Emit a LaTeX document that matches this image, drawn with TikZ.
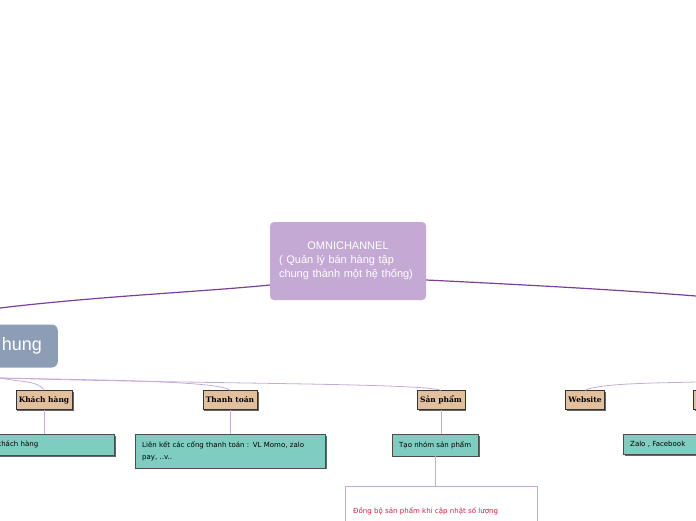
\documentclass[tikz,border=0pt]{standalone}
\usepackage{fontspec}
\usetikzlibrary{shadows}
\setmainfont{DejaVu Serif}
\setsansfont{Liberation Sans}
\newfontfamily\monof{DejaVu Sans}
\begin{document}
\begin{tikzpicture}[x=1pt,y=-1pt,
  tan/.style={draw=black!80,fill={rgb,255:red,226;green,192;blue,158},font=\bfseries\fontsize{7.5}{9}\selectfont,inner sep=3pt,minimum height=19pt,drop shadow={shadow xshift=1.5pt,shadow yshift=-1.5pt,fill=black!60,opacity=1}},
  teal/.style={draw=black!70,fill={rgb,255:red,126;green,205;blue,192},font=\monof\fontsize{7}{12}\selectfont,align=left,anchor=north west,inner sep=7pt,drop shadow={shadow xshift=1.5pt,shadow yshift=-1.5pt,fill=black!60,opacity=1}},
  main/.style={draw={rgb,255:red,123;green,63;blue,155},line width=1.2pt},
  thin/.style={draw={rgb,255:red,200;green,170;blue,215},line width=0.8pt}]
\useasboundingbox (0,0) rectangle (696,520);
\begin{scope}
\clip (0,0) rectangle (696,520);
\node[fill={rgb,255:red,195;green,169;blue,211},rounded corners=4pt,text=white,font=\sffamily\fontsize{11}{14}\selectfont,align=left,minimum width=156pt,minimum height=78pt,text width=138pt] (c) at (348,261) {\centering OMNICHANNEL\par ( Quản lý bán hàng tập chung thành một hệ thống)};
\coordinate (L) at (0,308);
\coordinate (R) at (696,296);
\draw[main] (c.west) ++(0,24) coordinate (cl) (L) .. controls (100,296) and (200,292) .. (cl);
\draw[main] (c.east) ++(0,19) coordinate (cr) (cr) .. controls (530,285) and (620,290) .. (R);
\node[fill={rgb,255:red,140;green,157;blue,181},rounded corners=6pt,text=white,font=\sffamily\fontsize{18}{20}\selectfont,anchor=east,minimum height=43pt,inner xsep=16pt] (h) at (58,346) {hung};
\node[tan] (kh) at (44,400) {Khách hàng};
\node[tan] (tt) at (230,400) {Thanh toán};
\node[tan] (sp) at (441,400) {Sản phẩm};
\node[tan] (ws) at (585,400) {Website};
\node[tan,anchor=west] (x5) at (693,400) {Mạng};
\coordinate (hl) at (0,378);
\coordinate (rr) at (696,382);
\draw[thin] (hl) .. controls (20,382) and (40,381) .. (kh.north);
\draw[thin] (hl) .. controls (100,380) and (220,381) .. (tt.north);
\draw[thin] (hl) .. controls (200,384) and (420,383) .. (sp.north);
\draw[thin] (rr) .. controls (660,383) and (600,383) .. (ws.north);
\node[teal,text width=150pt] (k1) at (-50,434) {Lưu lịch sử khách hàng};
\node[teal,text width=176pt] (t1) at (135,434) {Liên kết các cổng thanh toán : VL Momo, zalo pay, ..v..};
\node[teal] (s1) at (392,434) {Tạo nhóm sản phẩm};
\node[teal,text width=110pt] (z1) at (623,434) {Zalo , Facebook};
\draw[thin] (kh.south) -- (kh.south |- k1.north);
\draw[thin] (tt.south) -- (tt.south |- t1.north);
\draw[thin] (sp.south) -- (s1.north -| sp.south);
\node[draw={rgb,255:red,200;green,170;blue,215},fill=white,anchor=north west,minimum width=192pt,minimum height=50pt,text width=176pt,align=left,inner sep=7pt,font=\monof\fontsize{7}{12}\selectfont,text={rgb,255:red,210;green,30;blue,70}] (d1) at (345,486) {Đồng bộ sản phẩm khi cập nhật số lượng};
\draw[thin] (s1.south) -- (d1.north -| s1.south);
\end{scope}
\end{tikzpicture}
\end{document}
